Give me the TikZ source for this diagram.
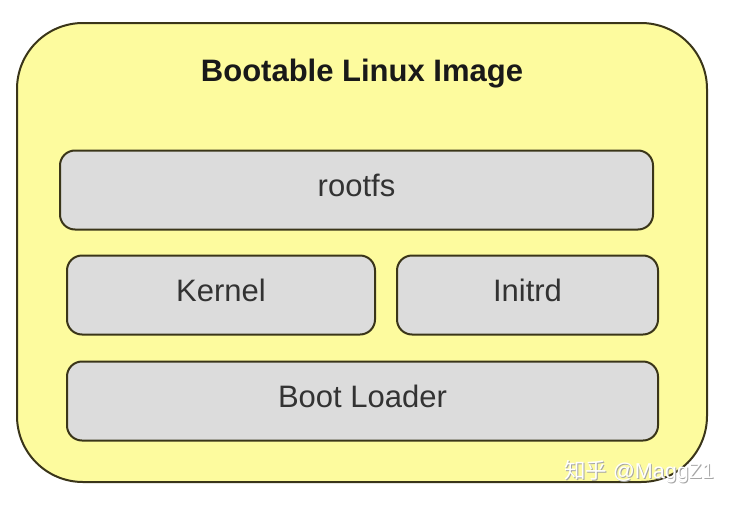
\documentclass[tikz,border=0pt]{standalone}
\usepackage{fontspec}
\setmainfont{Liberation Sans}
\newfontfamily\cjk{Noto Sans CJK SC}
\definecolor{imgyellow}{HTML}{FDFB9E}
\definecolor{partgray}{HTML}{DCDCDC}
\definecolor{edgeolive}{HTML}{3A3519}
\tikzset{
	part/.style={draw=edgeolive,line width=2pt,fill=partgray,rounded corners=15pt,
		minimum height=79pt,inner sep=0pt,text height=22pt,text depth=10pt,text=black!80,
		font=\fontsize{31}{36}\selectfont},
	watermark/.style={font=\fontsize{21.5}{25}\selectfont},
}
\begin{document}
\begin{tikzpicture}[x=1pt,y=-1pt]
			\useasboundingbox (0,0) rectangle (733,506);
			\node[draw=edgeolive,line width=2pt,fill=imgyellow,rounded corners=66pt,minimum width=690pt,minimum height=459pt] (image) at (362,252.5) {};
			\node[font=\bfseries\fontsize{31}{36}\selectfont,text=black!90] (title) at (362,74) {Bootable Linux Image};
			\node[part,minimum width=593pt] (rootfs) at (356.5,190) {rootfs};
			\node[part,minimum width=308pt] (kernel) at (221,295) {Kernel};
			\node[part,minimum width=261pt] (initrd) at (527.5,295) {Initrd};
			\node[part,minimum width=591pt] (loader) at (362.5,401) {Boot Loader};
			% watermark: grey shadow under white letters
			\node[watermark,text=gray!70] (markshadow) at (640,473) {{\cjk 知乎} @MaggZ1};
			\node[watermark,text=white] (mark) at (639,472) {{\cjk 知乎} @MaggZ1};
		\end{tikzpicture}
\end{document}
